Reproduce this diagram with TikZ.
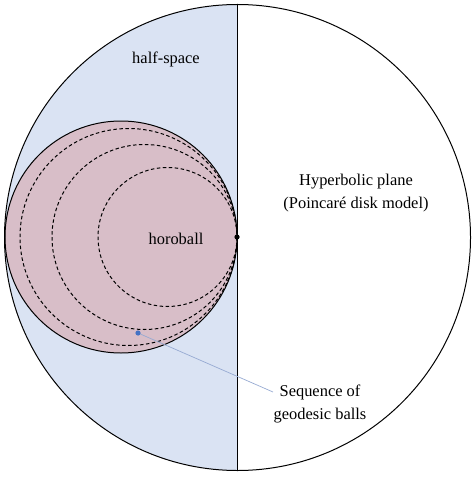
\documentclass[tikz,border=0pt]{standalone}
\usepackage{fontspec}
\setmainfont{Liberation Serif}
\definecolor{halfblue}{RGB}{218,227,243}
\definecolor{horopink}{RGB}{216,190,200}
\definecolor{dotblue}{RGB}{68,114,196}
\definecolor{leaderblue}{RGB}{150,170,210}
\begin{document}
\begin{tikzpicture}[x=1bp,y=-1bp,
  lbl/.style={font=\fontsize{16.5}{23}\selectfont, align=center, inner sep=0pt},
  dashcirc/.style={draw=black, line width=1pt, dash pattern=on 3.5pt off 2.5pt},
  solid/.style={draw=black, line width=1pt}]
\useasboundingbox (0,0) rectangle (474,477);
\coordinate (C) at (237.5,237.5);
\coordinate (T) at (237,237);
\begin{scope}
  \clip (C) circle (233);
  \fill[halfblue] (0,0) rectangle (237,477);
\end{scope}
\fill[horopink] (121,237) circle (116);
\draw[solid] (121,237) circle (116);
\draw[dashcirc] (128.5,237) circle (108.5);
\draw[dashcirc] (144.5,237) circle (92.5);
\draw[dashcirc] (167.5,237) circle (69.5);
\draw[solid] (C) circle (233);
\draw[solid] (237,4.5) -- (237,470.5);
\fill[black] (T) circle (2.6);
\node[lbl] (hs) at (166,59) {half-space};
\node[lbl] (hp) at (356,193) {Hyperbolic plane\\(Poincaré disk model)};
\node[lbl] (hb) at (176,239) {horoball};
\node[lbl] (sq) at (320,404) {Sequence of\\geodesic balls};
\coordinate (dot) at (138,333);
\coordinate (lend) at (273,392);
\draw[leaderblue, line width=0.7pt] (dot) -- (lend);
\fill[dotblue] (dot) circle (2.6);
\end{tikzpicture}
\end{document}
